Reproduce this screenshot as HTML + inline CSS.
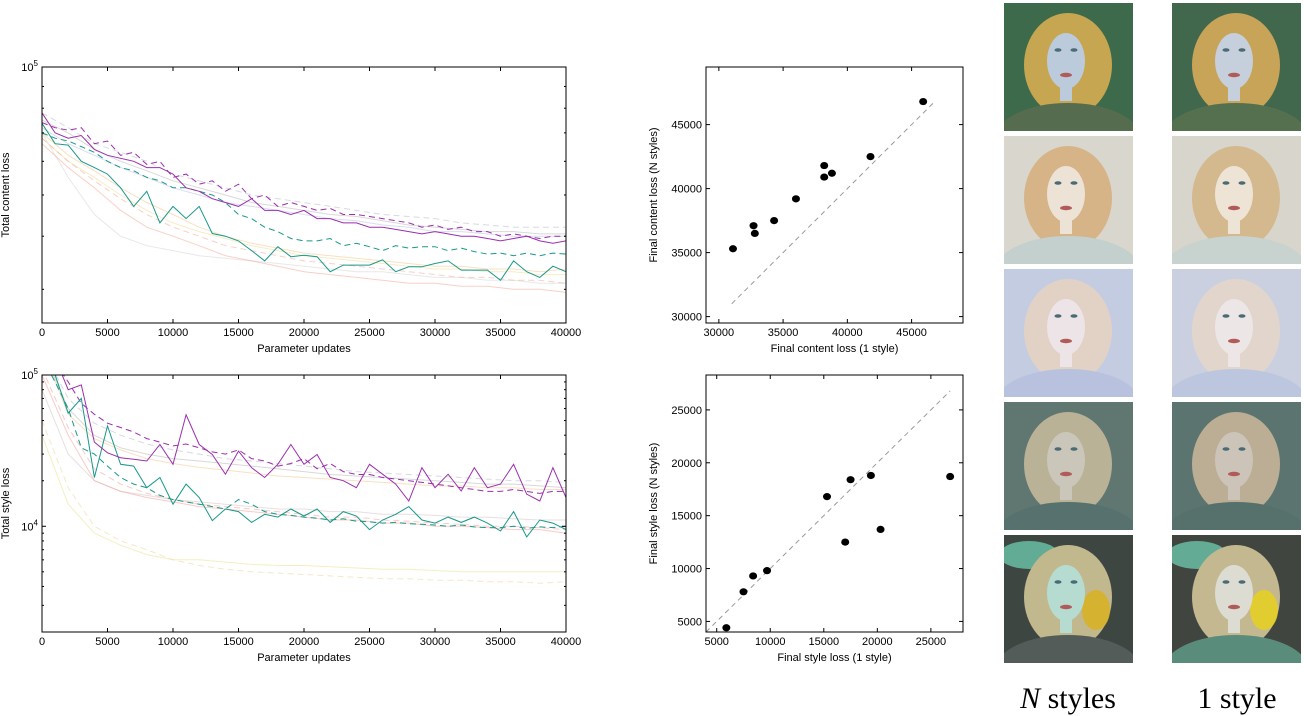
<!DOCTYPE html>
<html><head><meta charset="utf-8">
<style>
html,body{margin:0;padding:0;background:#fff;}
svg{display:block;font-family:"Liberation Sans","DejaVu Sans",sans-serif;}
.tk{font-size:11px;fill:#000;}
.lab{font-size:11px;fill:#000;}
</style></head>
<body>
<svg id="fig" width="1304" height="716" viewBox="0 0 1304 716" xmlns="http://www.w3.org/2000/svg">
<defs>
<clipPath id="clipTop"><rect x="42" y="67" width="524" height="256"/></clipPath>
<clipPath id="clipBot"><rect x="42" y="375" width="524" height="257"/></clipPath>
<clipPath id="tileClip"><rect x="0" y="0" width="129" height="128"/></clipPath>
</defs>
<g id="content-chart"></g>
<g id="style-chart"></g>
<g id="content-scatter"></g>
<g id="style-scatter"></g>
<g id="portraits"></g>
<text x="1068" y="708" text-anchor="middle" style="font-family:'Liberation Serif',serif;font-size:30px"><tspan font-style="italic">N</tspan> styles</text>
<text x="1237" y="708" text-anchor="middle" style="font-family:'Liberation Serif',serif;font-size:30px">1 style</text>
</svg>
<script>
// ---------- DATA ----------
const steps41 = [];
for (let i = 0; i <= 40; i++) steps41.push(i * 1000);
const steps21 = [];
for (let i = 0; i <= 20; i++) steps21.push(i * 2000);

// content loss (thousands)
const contentPurpleSolid = [78,70,68,69,64,62,61,60,58,58,56,52,51,49,48,47,49,46,46,45,46,44,44,43,43,42,42,41.5,41,40.5,41,40.5,40,40,39.5,39,39.5,40,39,38.5,39];
const contentPurpleDashed = [74,72,71,72,66,67,62,63,59,60,55,56,53,54,51,53,49,50,47,48,47,46,46.5,45,45,44.5,44,43.5,43,42,42.5,41.5,42,41,41,40,40.5,40,39.5,40,40];
const contentTealSolid = [73.7,66,65.5,60,58,56,52,47,51,43,47,44,47,40.6,40,39,37,35,37.8,35.8,36.1,35.8,33,34.2,34.2,34.2,35.2,33,33.9,33.9,34.5,35,33.3,33.3,33.3,31.5,35,33,32,34,33];
const contentTealDashed = [70,68,67,65,63,60,58,57,55,54,52,52,51,50,48,45,44,42,41,39.5,39,39,39.5,38,38.5,37.8,37,38,37.5,37.8,37.8,37,37.5,36.8,36.3,36.5,36,36.5,36,36.5,36.3];
const contentFaintGray = [75,70,64,60,57,54,52,50,48,47,46,45,44.5,43.5,42.5,42,41.5,41,41,40.5,40.5];
const contentFaintGrayDashed = [78,72,66,63,60,56,54,52,50,49,48,47,46,45,44.5,44,43,42.5,42,42,42];
const contentFaintLavender = [72,66,62,58,55,52,50,48,47,46,45,44,43.5,42.5,42,41,41,40.5,40,40,40];
const contentFaintOrange = [70,62,57,52,48,45,42,40,38.5,37.5,36.5,36,35.5,35,34.5,34,34,33.5,33.5,33,33.5];
const contentFaintPink = [66,58,52,46,42,40,38,36,35,34,33,32.5,32,31.5,31,31,30.5,30.5,30,30,29.5];
const contentFaintPinkDashed = [68,60,54,49,45,42,40,38,37,36,35,34.5,34,33.5,33,32.5,32,32,31.5,31.5,31];
const contentFaintLight = [70,55,45,40,38,37,36,35.5,35,34.5,34,33.5,33,33,32.5,32,32,31.5,31.5,31,31];
const contentFaintYellow = [68,60,55,50,46,43,41,39.5,38,37,36,35.5,35,34.5,34,33.5,33.5,33,33,32.5,32.5];

// style loss (thousands)
const stylePurpleSolid = [150,130,80,86,36,30.6,28.4,27.7,27,34.7,25.7,54.6,34.7,29.8,22.1,31.4,24.4,21,25.7,34.7,25.7,29.8,21,20,18,25.7,22.1,19,14.7,24.4,18,22.1,17.1,24.4,18,19,25.7,16.3,14.7,24.4,15.5];
const stylePurpleDashed = [150,120,90,65,55,48,45,42,38,36,34,35,33,31,30,32,28,27,25,26,28,24,26,23,22,22,21,20.5,20,19.5,19,18.5,18,17.5,17,17,17.5,17,16.5,17,17];
const styleTealSolid = [130,100,56,70,21,46,25.7,25,18,21,14,19,15.5,10.9,13,12.5,10.6,12,11.5,13,11.7,13,10.6,12.5,11.7,9.5,11,12,13.5,11,10.5,11.5,10.6,11.5,10.5,9.3,12.5,8.5,11,10.5,9.5];
const styleTealDashed = [130,90,60,33,30,25,21,19,18,16,15,14.5,14,13.5,13,15,14,12.5,12,11.8,11.5,11.3,11,11.2,10.8,10.7,10.5,10.6,10.4,10.3,10.2,10,10.2,9.9,9.8,9.8,10,9.7,9.9,9.8,10];
const styleFaintGray = [150,60,40,33,30,28,27,26,25,24,23,22,21.5,21,20.5,20,19.5,19,19,18.5,18];
const styleFaintGrayDashed = [150,70,48,40,35,32,30,28,27,26,25,24,23,22.5,22,21.5,21,20.5,20,20,19.5];
const styleFaintOrange = [150,55,38,32,28,26,24.5,23.5,22.5,21.5,21,20.5,20,19.5,19,18.5,18.5,18,18,17.5,17.5];
const styleFaintPink = [100,40,20,17,15.5,14.5,13.5,13,12.5,12,11.5,11,11,10.5,10.5,10,10,9.8,9.5,9.5,9];
const styleFaintPinkDashed = [110,45,24,19,16.5,15,14,13.5,13,12.5,12,11.5,11.5,11,10.8,10.5,10.3,10,10,9.8,9.5];
const styleFaintLight = [80,30,20,17,16,15,14.5,14,13.5,13,13,12.5,12.5,12,12,11.8,11.5,11.5,11.2,11,11];
const styleFaintYellow = [40,14,9,7.5,6.5,6,6,5.8,5.6,5.5,5.5,5.4,5.3,5.2,5.2,5.1,5,5,5,5,5];
const styleFaintYellowDashed = [50,18,10,8,7,6,5.5,5.2,5,4.9,4.8,4.7,4.6,4.5,4.5,4.4,4.4,4.3,4.3,4.2,4.3];

// scatter data
const contentOneStyle = [31100,32700,32800,34300,36000,38200,38200,38800,41800,45900];
const contentNStyles  = [35300,37100,36500,37500,39200,41800,40900,41200,42500,46800];
const styleOneStyle = [5900,7500,8400,9700,15300,17000,17500,19400,20300,26800];
const styleNStyles  = [4400,7800,9300,9800,16800,12500,18400,18800,13700,18700];
const xTicksLine = [0,5000,10000,15000,20000,25000,30000,35000,40000];
const contentScatterTicks = [30000,35000,40000,45000];
const styleScatterTicks = [5000,10000,15000,20000,25000];

// ---------- HELPERS ----------
const NS = "http://www.w3.org/2000/svg";
function mk(parent, tag, attrs) {
  const e = document.createElementNS(NS, tag);
  for (const k in attrs) e.setAttribute(k, attrs[k]);
  parent.appendChild(e);
  return e;
}
function linScale(d0, d1, r0, r1) { return v => r0 + (v - d0) / (d1 - d0) * (r1 - r0); }
function logScale(d0, d1, r0, r1) { return v => r0 + (Math.log10(v) - Math.log10(d0)) / (Math.log10(d1) - Math.log10(d0)) * (r1 - r0); }

function lineChart(g, top, bot, yMin, clip, series, ylabel, decades) {
  const L = 42, R = 566;
  const xs = linScale(0, 40000, L, R);
  const ys = logScale(yMin, 100000, bot, top);
  const plot = mk(g, "g", {"clip-path": "url(#" + clip + ")"});
  series.forEach(s => {
    const xsArr = s.vals.length === 41 ? steps41 : steps21;
    const pts = s.vals.map((v, i) => xs(xsArr[i]).toFixed(1) + "," + ys(v * 1000).toFixed(1)).join(" ");
    const pl = mk(plot, "polyline", {points: pts, fill: "none", stroke: s.c, "stroke-width": s.w || 1, "stroke-opacity": s.o || 1});
    if (s.d) pl.setAttribute("stroke-dasharray", "6,4");
    
    
  });
  mk(g, "rect", {x: L, y: top, width: R - L, height: bot - top, fill: "none", stroke: "#000", "stroke-width": 1});
  xTicksLine.forEach(t => {
    const x = xs(t);
    mk(g, "line", {x1: x, x2: x, y1: bot, y2: bot - 4, stroke: "#000"});
    mk(g, "line", {x1: x, x2: x, y1: top, y2: top + 4, stroke: "#000"});
    const tx = mk(g, "text", {x: x, y: bot + 13, "text-anchor": "middle", class: "tk"});
    tx.textContent = t;
    
    
  });
  decades.forEach(dec => {
    for (let m = 1; m <= 9; m++) {
      const v = m * dec;
      if (v < yMin || v > 100000) continue;
      const y = ys(v);
      const len = m === 1 ? 4 : 2;
      mk(g, "line", {x1: L, x2: L + len, y1: y, y2: y, stroke: "#000"});
      mk(g, "line", {x1: R, x2: R - len, y1: y, y2: y, stroke: "#000"});
      if (m === 1) {
        const tx = mk(g, "text", {x: L - 4, y: y + 4, "text-anchor": "end", class: "tk"});
        tx.innerHTML = '10<tspan dy="-5" font-size="8">' + Math.round(Math.log10(v)) + '</tspan>';
        
        
      }
    }
  });
  const xl = mk(g, "text", {x: (L + R) / 2, y: bot + 29, "text-anchor": "middle", class: "lab"});
  xl.textContent = "Parameter updates";
  
  
  const yl = mk(g, "text", {x: 0, y: 0, "text-anchor": "middle", class: "lab", transform: "translate(9," + ((top + bot) / 2) + ") rotate(-90)"});
  yl.textContent = ylabel;
  
  
}

const PUR = "#9b2fae", TEAL = "#17998a";
lineChart(document.getElementById("content-chart"), 67, 323, 25000, "clipTop", [
  {vals: contentFaintLight, c: "#d8d8d8", o: 0.6, n: "faint-light-line"},
  {vals: contentFaintYellow, c: "#f2dfa0", o: 0.6, n: "faint-yellow-line"},
  {vals: contentFaintPink, c: "#f3b0a0", o: 0.6, n: "faint-pink-line"},
  {vals: contentFaintPinkDashed, c: "#f3b0a0", o: 0.6, d: 1, n: "faint-pink-dashed-line"},
  {vals: contentFaintOrange, c: "#f5cc9a", o: 0.6, n: "faint-orange-line"},
  {vals: contentFaintLavender, c: "#c0c6e8", o: 0.6, n: "faint-lavender-line"},
  {vals: contentFaintGray, c: "#c8c8c8", o: 0.7, n: "faint-gray-line"},
  {vals: contentFaintGrayDashed, c: "#c8c8d8", o: 0.7, d: 1, n: "faint-gray-dashed-line"},
  {vals: contentTealDashed, c: TEAL, d: 1, n: "teal-dashed-line"},
  {vals: contentPurpleDashed, c: PUR, d: 1, n: "purple-dashed-line"},
  {vals: contentTealSolid, c: TEAL, n: "teal-solid-line"},
  {vals: contentPurpleSolid, c: PUR, n: "purple-solid-line"}
], "Total content loss", [10000, 100000]);

lineChart(document.getElementById("style-chart"), 375, 632, 2000, "clipBot", [
  {vals: styleFaintYellow, c: "#eee8a8", o: 0.7, n: "faint-yellow-line"},
  {vals: styleFaintYellowDashed, c: "#f5dcb0", o: 0.7, d: 1, n: "faint-yellow-dashed-line"},
  {vals: styleFaintLight, c: "#e0d0d0", o: 0.7, n: "faint-light-line"},
  {vals: styleFaintPink, c: "#f3a8a0", o: 0.6, n: "faint-pink-line"},
  {vals: styleFaintPinkDashed, c: "#f3a8a0", o: 0.6, d: 1, n: "faint-pink-dashed-line"},
  {vals: styleFaintOrange, c: "#f5cc9a", o: 0.6, n: "faint-orange-line"},
  {vals: styleFaintGray, c: "#c8c8c8", o: 0.7, n: "faint-gray-line"},
  {vals: styleFaintGrayDashed, c: "#c8c8d8", o: 0.7, d: 1, n: "faint-gray-dashed-line"},
  {vals: styleTealDashed, c: TEAL, d: 1, n: "teal-dashed-line"},
  {vals: stylePurpleDashed, c: PUR, d: 1, n: "purple-dashed-line"},
  {vals: styleTealSolid, c: TEAL, n: "teal-solid-line"},
  {vals: stylePurpleSolid, c: PUR, n: "purple-solid-line"}
], "Total style loss", [1000, 10000, 100000]);

function scatter(g, top, bot, xd, yd, xv, yv, ticks, diag, xlab, ylab) {
  const L = 706, R = 963;
  const xs = linScale(xd[0], xd[1], L, R);
  const ys = linScale(yd[0], yd[1], bot, top);
  mk(g, "line", {x1: xs(diag[0]), y1: ys(diag[0]), x2: xs(diag[1]), y2: ys(diag[1]), stroke: "#999", "stroke-dasharray": "5,4", "stroke-width": 1});
  xv.forEach((x, i) => {
    const c = mk(g, "ellipse", {cx: xs(x), cy: ys(yv[i]), rx: 4, ry: 3.6, fill: "#000"});
    
    
  });
  mk(g, "rect", {x: L, y: top, width: R - L, height: bot - top, fill: "none", stroke: "#000"});
  ticks.forEach(t => {
    const x = xs(t);
    if (x >= L - 0.5 && x <= R) {
      mk(g, "line", {x1: x, x2: x, y1: bot, y2: bot - 4, stroke: "#000"});
      mk(g, "line", {x1: x, x2: x, y1: top, y2: top + 4, stroke: "#000"});
      const tx = mk(g, "text", {x: x, y: bot + 13, "text-anchor": "middle", class: "tk"});
      tx.textContent = t;
      
      
    }
    const y = ys(t);
    if (y >= top && y <= bot + 0.5) {
      mk(g, "line", {x1: L, x2: L + 4, y1: y, y2: y, stroke: "#000"});
      mk(g, "line", {x1: R, x2: R - 4, y1: y, y2: y, stroke: "#000"});
      const tx = mk(g, "text", {x: L - 4, y: y + 4, "text-anchor": "end", class: "tk"});
      tx.textContent = t;
      
      
    }
  });
  const xl = mk(g, "text", {x: (L + R) / 2, y: bot + 29, "text-anchor": "middle", class: "lab"});
  xl.textContent = xlab;
  
  
  const yl = mk(g, "text", {x: 0, y: 0, "text-anchor": "middle", class: "lab", transform: "translate(657," + ((top + bot) / 2) + ") rotate(-90)"});
  yl.textContent = ylab;
  
  
}
scatter(document.getElementById("content-scatter"), 67, 323, [29000, 49000], [29500, 49500],
  contentOneStyle, contentNStyles, contentScatterTicks, [31000, 46700], "Final content loss (1 style)", "Final content loss (N styles)");
scatter(document.getElementById("style-scatter"), 375, 632, [4000, 28000], [4000, 28300],
  styleOneStyle, styleNStyles, styleScatterTicks, [4000, 26800], "Final style loss (1 style)", "Final style loss (N styles)");

// ---------- PORTRAITS ----------
const tilePalettes = [
  [{bg:"#3d6a4a",hair:"#c6a650",face:"#bccbdc",shirt:"#556c4e"},{bg:"#41684c",hair:"#c8a458",face:"#c6cfdc",shirt:"#55704e"}],
  [{bg:"#d9d7cd",hair:"#d6b488",face:"#ece2d6",shirt:"#c4d0ce"},{bg:"#d8d6cc",hair:"#d4b88e",face:"#eee4d6",shirt:"#c8d2ce"}],
  [{bg:"#c4cce2",hair:"#e2d2c6",face:"#ece4e6",shirt:"#b8c2de"},{bg:"#cbd0e0",hair:"#e2d6cc",face:"#ece6e6",shirt:"#bcc6de"}],
  [{bg:"#5f7770",hair:"#bab296",face:"#cac6ba",shirt:"#56716e"},{bg:"#5c7470",hair:"#bcae94",face:"#ccc4b8",shirt:"#56706c"}],
  [{bg:"#3e4642",hair:"#c2b88e",face:"#b6dcd2",shirt:"#545c5a",blob:"#d8b020"},{bg:"#40463f",hair:"#c4b890",face:"#dcdcd2",shirt:"#5a8c7c",blob:"#e8d020"}]
];
const pg = document.getElementById("portraits");
const colX = [1004, 1172];
const rowY = [3, 136, 269, 402, 535];
tilePalettes.forEach((row, r) => row.forEach((p, c) => {
  const t = mk(pg, "g", {transform: "translate(" + colX[c] + "," + rowY[r] + ")", "clip-path": "url(#tileClip)"});
  
  
  mk(t, "rect", {x: 0, y: 0, width: 129, height: 128, fill: p.bg});
  if (r === 4) mk(t, "ellipse", {cx: 25, cy: 20, rx: 30, ry: 14, fill: "#6cc4aa", opacity: 0.8});
  mk(t, "ellipse", {cx: 64, cy: 62, rx: 44, ry: 52, fill: p.hair});
  mk(t, "ellipse", {cx: 64, cy: 134, rx: 72, ry: 34, fill: p.shirt});
  if (p.blob) mk(t, "ellipse", {cx: 92, cy: 75, rx: 14, ry: 20, fill: p.blob, opacity: 0.85});
  mk(t, "ellipse", {cx: 62, cy: 58, rx: 19, ry: 28, fill: p.face});
  mk(t, "rect", {x: 56, y: 80, width: 12, height: 18, fill: p.face});
  mk(t, "ellipse", {cx: 54, cy: 47, rx: 3.5, ry: 1.8, fill: "#4a6a74"});
  mk(t, "ellipse", {cx: 70, cy: 47, rx: 3.5, ry: 1.8, fill: "#4a6a74"});
  mk(t, "ellipse", {cx: 62, cy: 72, rx: 6, ry: 2.2, fill: "#b05a5a"});
}));
</script>
</body></html>
